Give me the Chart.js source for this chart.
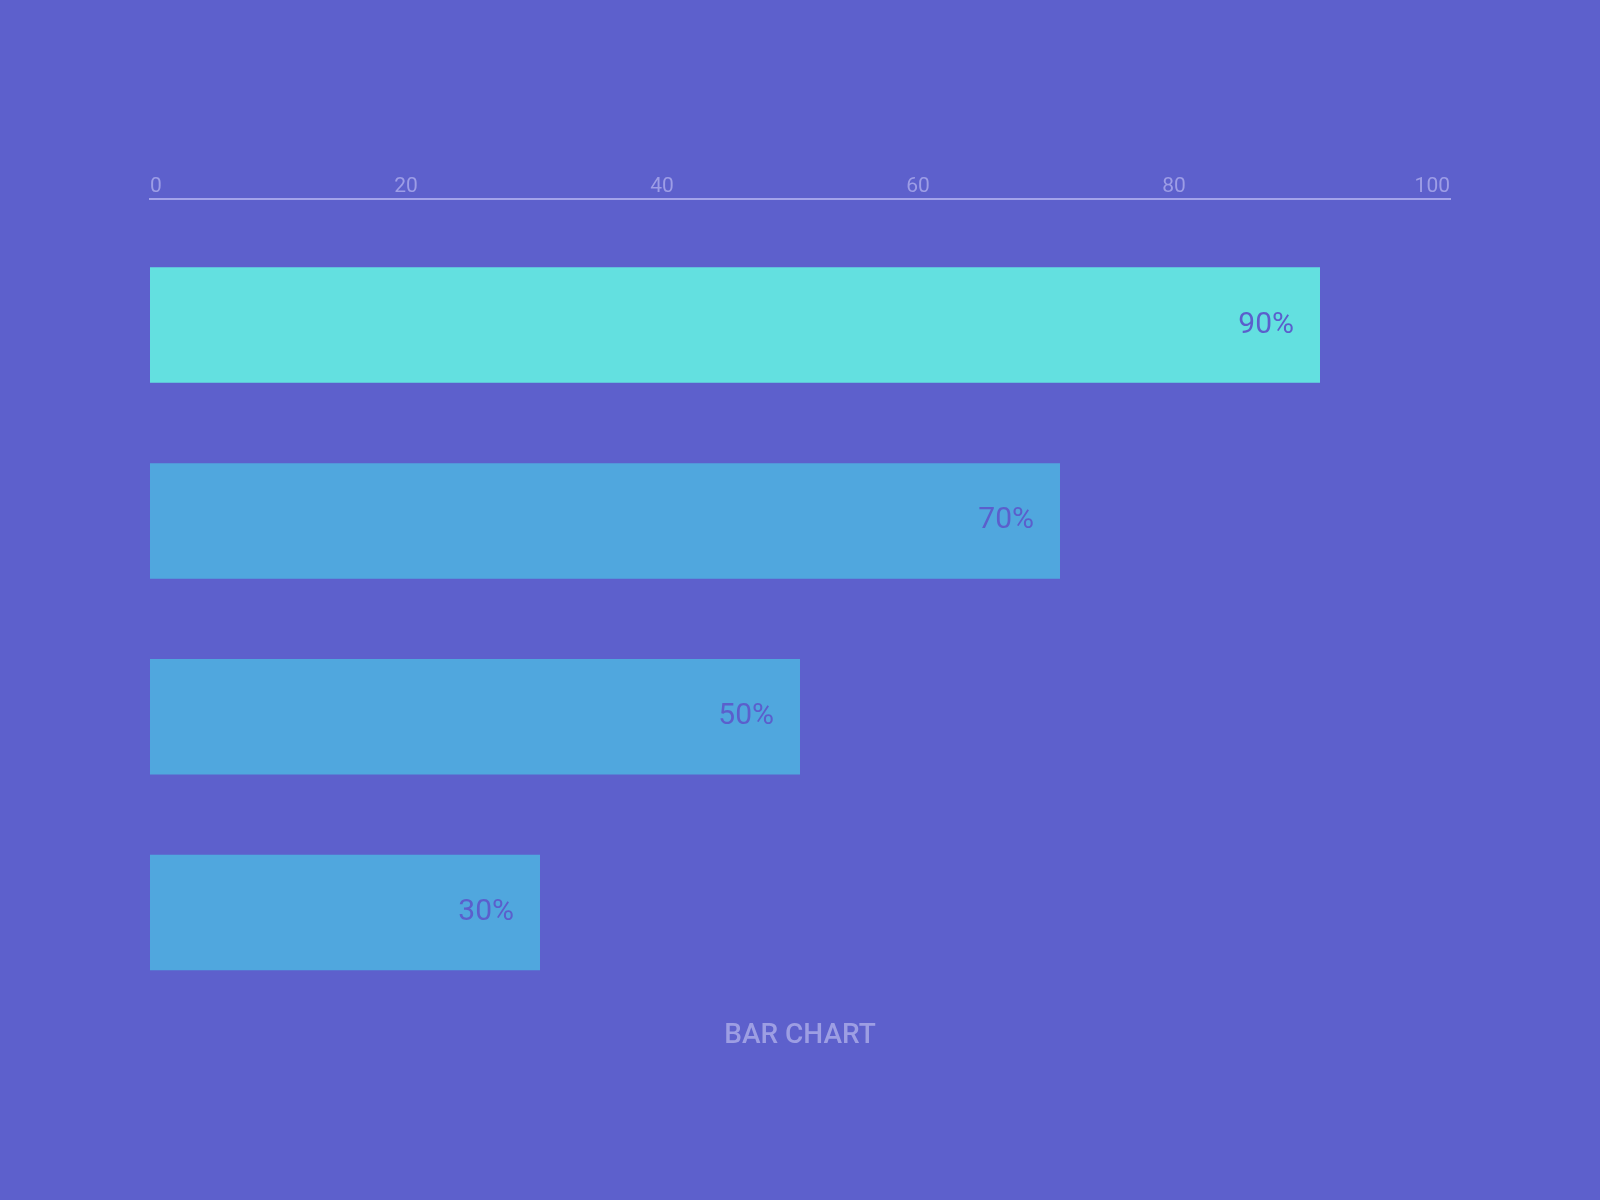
<!DOCTYPE html>
<html>
<head>
<meta charset="utf-8">
<script src="https://cdn.jsdelivr.net/npm/chart.js@4/dist/chart.umd.min.js"></script>
<style>
  html, body { margin: 0; padding: 0; background: #5d60cc; }
  #wrap { width: 1600px; height: 1200px; }
</style>
</head>
<body>
<div id="wrap"><canvas id="barChart" width="1600" height="1200"></canvas></div>
<script>
'use strict';
// chart data
const categories = ['A', 'B', 'C', 'D'];
const values = [90, 70, 50, 30];
const barColors = ['#63e0e0', '#50a7de', '#50a7de', '#50a7de'];
const tickLabels = ['0', '20', '40', '60', '80', '100'];
const chartTitle = 'BAR CHART';

const FONT = 'Roboto, "DejaVu Sans", sans-serif';

// percent text inside the end of each bar
const barLabels = {
    id: 'barLabels',
    afterDatasetsDraw(chart) {
        const ctx = chart.ctx;
        const meta = chart.getDatasetMeta(0);
        ctx.save();
        ctx.font = '400 30px ' + FONT;
        ctx.fillStyle = '#5b5fcc';
        ctx.textAlign = 'right';
        ctx.textBaseline = 'middle';
        meta.data.forEach((bar, i) => {
            ctx.fillText(values[i] + '%', bar.x - 26, bar.y);
        });
        ctx.restore();
    }
};

new Chart(document.getElementById('barChart'), {
    type: 'bar',
    data: {
        labels: categories,
        datasets: [{
            data: values,
            backgroundColor: barColors,
            borderWidth: 0,
            barPercentage: 0.59,
            categoryPercentage: 1
        }]
    },
    options: {
        indexAxis: 'y',
        responsive: false,
        animation: false,
        layout: { padding: { top: 174, left: 150, right: 150, bottom: 147 } },
        scales: {
            x: {
                position: 'top',
                min: 0, max: 100,
                weight: 0,
                ticks: { display: false },
                grid: { display: false },
                border: { display: false },
                afterFit: s => { s.height = 28; }
            },
            // label row: the original spreads its labels evenly across the width,
            // slightly narrower than the data scale, hence the wider max
            xTicks: {
                type: 'linear',
                axis: 'x',
                position: 'top',
                min: 0, max: 101.5625,
                weight: 1,
                grid: { display: false, drawTicks: false },
                border: { display: true, color: '#a3a3ea', width: 2 },
                ticks: {
                    stepSize: 20,
                    align: 'inner',
                    padding: 0,
                    color: '#9d9de6',
                    font: { family: FONT, size: 21, weight: '400' },
                    callback: (v, i) => tickLabels[i]
                }
            },
            y: { display: false }
        },
        plugins: {
            legend: { display: false },
            tooltip: { enabled: false },
            title: {
                display: true,
                text: chartTitle,
                position: 'bottom',
                color: '#9d9ee3',
                font: { family: FONT, size: 28, weight: '500' },
                padding: { top: 9, bottom: 0 }
            }
        }
    },
    plugins: [barLabels]
});
</script>
</body>
</html>
